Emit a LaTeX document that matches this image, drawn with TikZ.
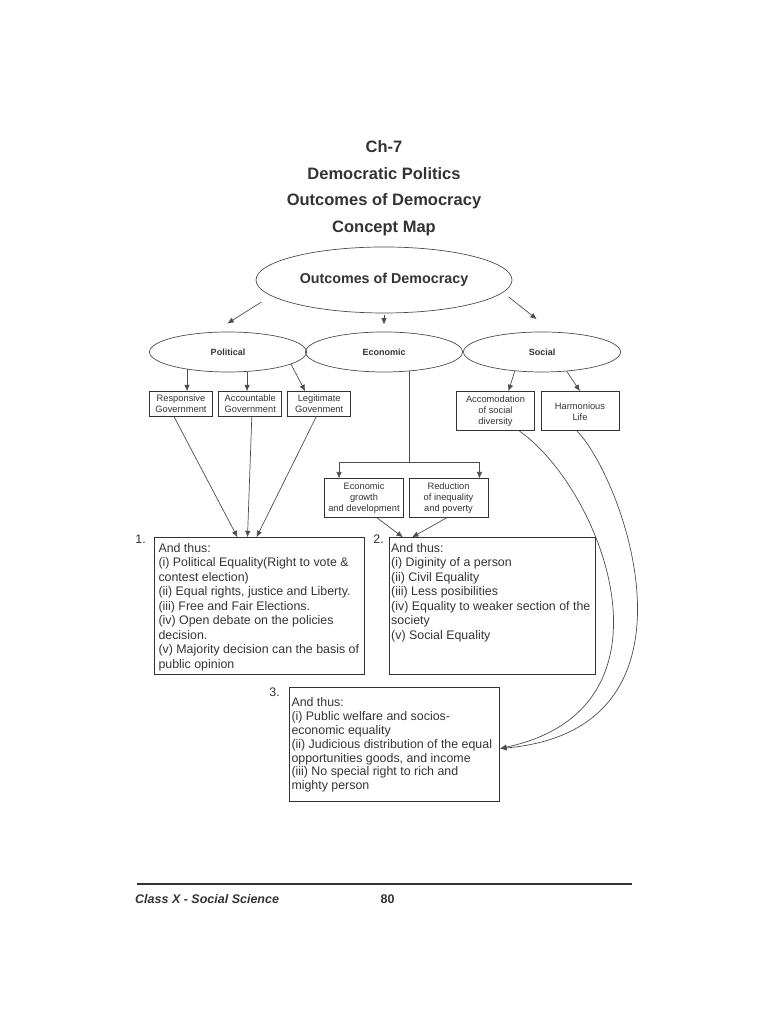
\documentclass[tikz,border=0pt]{standalone}
\usepackage{fontspec}
\setmainfont{Liberation Sans}
\usetikzlibrary{shapes.geometric}
\usetikzlibrary{arrows.meta}
\tikzset{>={Latex[width=5.5pt,length=6.5pt]}}
\definecolor{ink}{HTML}{333333}
\definecolor{wire}{HTML}{4D4D4D}
\newcommand{\boxfont}{\fontsize{12.4}{14.5}\selectfont}

\tikzset{
  oval/.style={ellipse, draw=wire, line width=0.7pt, text=ink, inner sep=0pt,
    minimum width=157pt, minimum height=40pt, font=\bfseries\fontsize{9}{11}\selectfont},
  smallbox/.style={rectangle, draw=ink, line width=0.9pt, text=ink, align=center,
    inner sep=1pt, font=\fontsize{9.3}{11}\selectfont},
  thusbox/.style={rectangle, draw=ink, line width=1pt, text=ink, anchor=north west,
    inner ysep=5.4pt, font=\boxfont},
  num/.style={anchor=base east, inner sep=0pt, text=ink, font=\boxfont},
  titleline/.style={anchor=base, inner sep=0pt, text=ink, font=\bfseries\fontsize{16.5}{20}\selectfont},
  link/.style={draw=wire, line width=0.7pt},
}

\begin{document}
\begin{tikzpicture}[x=1pt,y=1pt]
  \useasboundingbox (0,0) rectangle (768,1024);

  \node[titleline] (chno) at (384,871.3) {Ch-7};
  \node[titleline] (subject) at (384,844.7) {Democratic Politics};
  \node[titleline] (chapter) at (384,818) {Outcomes of Democracy};
  \node[titleline] (mapname) at (384,791.3) {Concept Map};

  \node[oval, minimum width=256pt, minimum height=66pt,
    font=\bfseries\fontsize{14.3}{17}\selectfont] (outcomes) at (384,744) {Outcomes of Democracy};

  \node[oval] (political) at (228,672) {Political};
  \node[oval] (economic) at (384,672) {Economic};
  \node[oval] (social) at (542,672) {Social};

  \draw[link,->,shorten <=11.8pt,shorten >=15.8pt] (outcomes.-172.6) -- (political.125);
  \draw[link,->,shorten <=2pt,shorten >=7pt] (outcomes.south) -- (economic.north);
  \draw[link,->,shorten <=7.3pt,shorten >=20.3pt] (outcomes.-6.5) -- (social.62);

  \node[smallbox, minimum width=63pt, minimum height=24.5pt] (responsive) at (181,620) {Responsive\\Government};
  \node[smallbox, minimum width=63pt, minimum height=24.5pt] (accountable) at (250.3,620) {Accountable\\Government};
  \node[smallbox, minimum width=63pt, minimum height=24.5pt] (legitimate) at (319.2,620) {Legitimate\\Govenment};
  \node[smallbox, minimum width=78pt, minimum height=39pt] (accomodation) at (495.5,612.8) {Accomodation\\of social\\diversity};
  \node[smallbox, minimum width=78pt, minimum height=39pt] (harmonious) at (580,612.8) {Harmonious\\Life};
  \node[smallbox, minimum width=79pt, minimum height=38.5pt] (growth) at (364,525.8) {Economic\\growth\\and development};
  \node[smallbox, minimum width=79pt, minimum height=38.5pt] (reduction) at (448.5,525.8) {Reduction\\of inequality\\and poverty};

  \draw[link,->] (political.-157) -- (political.-157 |- responsive.north);
  \draw[link,->] (political.-46) -- (political.-46 |- accountable.north);
  \draw[link,->] (political.-11) -- ([xshift=-14pt]legitimate.north);
  \draw[link,->] (social.-145) -- ([xshift=13pt]accomodation.north);
  \draw[link,->] (social.-38) -- (harmonious.north);

  \coordinate (split) at (409,562);
  \draw[link] (economic.-37) -- (economic.-37 |- split);
  \draw[link,->] (split) -| ([xshift=15pt]growth.north west);
  \draw[link,->] (split) -| ([xshift=-9pt]reduction.north east);

  \node[thusbox, inner xsep=4pt] (thusone) at (154,486.7) {\parbox[t][126.2pt][t]{202pt}{\raggedright
    And thus:\\
    (i) Political Equality(Right to vote \&\\
    contest election)\\
    (ii) Equal rights, justice and Liberty.\\
    (iii) Free and Fair Elections.\\
    (iv) Open debate on the policies\\
    decision.\\
    (v) Majority decision can the basis of\\
    public opinion}};
  \node[thusbox, inner xsep=1.7pt] (thustwo) at (389,486.7) {\parbox[t][126.2pt][t]{202.6pt}{\raggedright
    And thus:\\
    (i) Diginity of a person\\
    (ii) Civil Equality\\
    (iii) Less posibilities\\
    (iv) Equality to weaker section of the\\
    society\\
    (v) Social Equality}};
  \node[thusbox, inner xsep=2pt] (thusthree) at (289,337) {\parbox[t][103.2pt][t]{206pt}{\raggedright
    \fontsize{12.4}{13.9}\selectfont\vspace*{4.6pt}%
    And thus:\\
    (i) Public welfare and socios-\\
    economic equality\\
    (ii) Judicious distribution of the equal\\
    opportunities goods, and income\\
    (iii) No special right to rich and\\
    mighty person}};

  \node[num] (numone) at ([xshift=-8pt,yshift=-6.7pt]thusone.north west) {1.};
  \node[num] (numtwo) at ([xshift=-5pt,yshift=-6.7pt]thustwo.north west) {2.};
  \node[num] (numthree) at ([xshift=-9pt,yshift=-10pt]thusthree.north west) {3.};

  \draw[link,->] ([xshift=-7pt]responsive.south) -- ([xshift=-22pt]thusone.north);
  \draw[link,->] ([xshift=1.5pt]accountable.south) -- ([xshift=-12pt]thusone.north);
  \draw[link,->] ([xshift=-3pt]legitimate.south) -- ([xshift=-3pt]thusone.north);
  \draw[link,->] ([xshift=13pt]growth.south) -- ([xshift=14pt]thustwo.north west);
  \draw[link,->] ([xshift=-2pt]reduction.south) -- ([xshift=23pt]thustwo.north west);

  \coordinate (meet) at ([yshift=-4pt]thusthree.east);
  \draw[link,->] ([xshift=24pt]accomodation.south)
    to[out=-35,in=12,out looseness=0.8,in looseness=1.55] (meet);
  \draw[link,->] ([xshift=-3pt]harmonious.south)
    to[out=-45,in=5,out looseness=0.5,in looseness=1.7] (meet);

  \draw[ink, line width=2.4pt] (137,140) -- (632,140);
  \node[anchor=base west, inner sep=0pt, text=ink, font=\bfseries\itshape\fontsize{12.5}{15}\selectfont] (footer) at (135,120) {Class X - Social Science};
  \node[anchor=base, inner sep=0pt, text=ink, font=\bfseries\fontsize{12.5}{15}\selectfont] (pageno) at (387.5,120) {80};
\end{tikzpicture}
\end{document}
